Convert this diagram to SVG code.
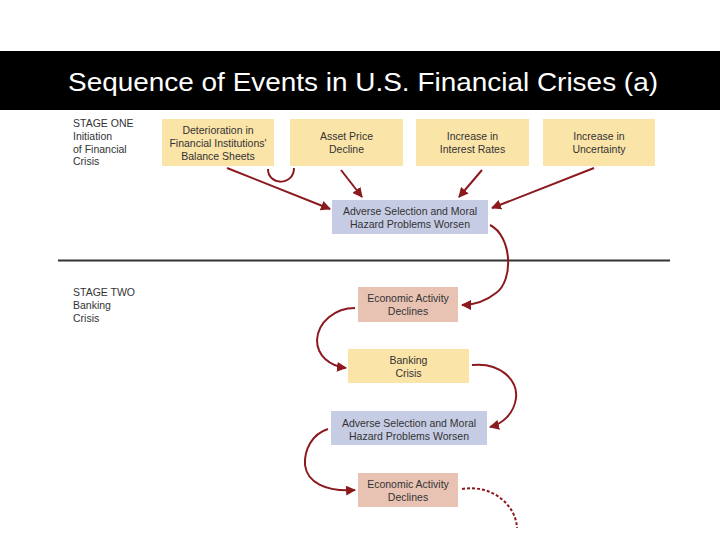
<svg xmlns="http://www.w3.org/2000/svg" width="720" height="540" viewBox="0 0 720 540">
<style>
.t{font-family:"Liberation Sans",Arial,sans-serif;font-size:10.5px;fill:#333;text-anchor:middle}
.s{font-family:"Liberation Sans",Arial,sans-serif;font-size:10.5px;fill:#333}
.y{fill:#fbe4a8}
.b{fill:#c6cce4}
.p{fill:#e8c3b3}
.c{fill:none;stroke:#8b1a1f;stroke-width:2}
</style>
<defs>
<marker id="ah" viewBox="0 0 10 10" refX="9" refY="5" markerWidth="5" markerHeight="5" orient="auto" markerUnits="strokeWidth">
<path d="M0,0 L10,5 L0,10 z" fill="#8b1a1f"/>
</marker>
</defs>
<rect width="720" height="540" fill="#fff"/>
<rect x="0" y="51" width="720" height="59" fill="#000"/>
<text x="68" y="91" font-family="'Liberation Sans',Arial,sans-serif" font-size="26" fill="#fff" textLength="590" lengthAdjust="spacingAndGlyphs">Sequence of Events in U.S. Financial Crises (a)</text>

<g id="stage1">
<text class="s" x="73" y="127">STAGE ONE</text>
<text class="s" x="73" y="140">Initiation</text>
<text class="s" x="73" y="153">of Financial</text>
<text class="s" x="73" y="165">Crisis</text>
</g>
<g id="stage2">
<text class="s" x="73" y="296">STAGE TWO</text>
<text class="s" x="73" y="309">Banking</text>
<text class="s" x="73" y="322">Crisis</text>
</g>
<line x1="58" y1="260.5" x2="670" y2="260.5" stroke="#333" stroke-width="2"/>

<g id="n1"><rect class="y" x="162" y="119" width="112" height="47"/>
<text class="t" x="218" y="134">Deterioration in</text>
<text class="t" x="218" y="147">Financial Institutions'</text>
<text class="t" x="218" y="160">Balance Sheets</text></g>
<g id="n2"><rect class="y" x="290" y="119" width="113" height="47"/>
<text class="t" x="346.5" y="140">Asset Price</text>
<text class="t" x="346.5" y="153">Decline</text></g>
<g id="n3"><rect class="y" x="416" y="119" width="113" height="47"/>
<text class="t" x="472.5" y="140">Increase in</text>
<text class="t" x="472.5" y="153">Interest Rates</text></g>
<g id="n4"><rect class="y" x="543" y="119" width="112" height="47"/>
<text class="t" x="599" y="140">Increase in</text>
<text class="t" x="599" y="153">Uncertainty</text></g>
<g id="n5"><rect class="b" x="332" y="200" width="156" height="34"/>
<text class="t" x="410" y="215">Adverse Selection and Moral</text>
<text class="t" x="410" y="228">Hazard Problems Worsen</text></g>
<g id="n6"><rect class="p" x="358" y="287" width="100" height="35"/>
<text class="t" x="408" y="302">Economic Activity</text>
<text class="t" x="408" y="315">Declines</text></g>
<g id="n7"><rect class="y" x="348" y="349" width="121" height="34"/>
<text class="t" x="408.5" y="364">Banking</text>
<text class="t" x="408.5" y="377">Crisis</text></g>
<g id="n8"><rect class="b" x="331" y="411" width="156" height="34"/>
<text class="t" x="409" y="427">Adverse Selection and Moral</text>
<text class="t" x="409" y="440">Hazard Problems Worsen</text></g>
<g id="n9"><rect class="p" x="358" y="473" width="100" height="34"/>
<text class="t" x="408" y="488">Economic Activity</text>
<text class="t" x="408" y="501">Declines</text></g>

<g id="connectors">
<path class="c" d="M227,168 L330,209" marker-end="url(#ah)"/>
<path class="c" d="M268,169 C268,186 294,186 294,168"/>
<path class="c" d="M341,170 L362,197" marker-end="url(#ah)"/>
<path class="c" d="M482,170 L459,197" marker-end="url(#ah)"/>
<path class="c" d="M594,168 L492,208" marker-end="url(#ah)"/>
<path class="c" d="M490,225 C512,236 514,280 496,293 C486,301 474,305 462,305" marker-end="url(#ah)"/>
<path class="c" d="M355,308 C335,308 318,322 317,340 C317,356 330,366 346,368" marker-end="url(#ah)"/>
<path class="c" d="M472,365 C500,362 518,380 516,398 C514,414 502,424 490,427" marker-end="url(#ah)"/>
<path class="c" d="M328,429 C312,434 304,450 305,465 C307,482 325,492 355,490" marker-end="url(#ah)"/>
<path class="c" d="M462,489 C492,484 516,505 517,528" stroke-dasharray="3,2"/>
</g>
</svg>
